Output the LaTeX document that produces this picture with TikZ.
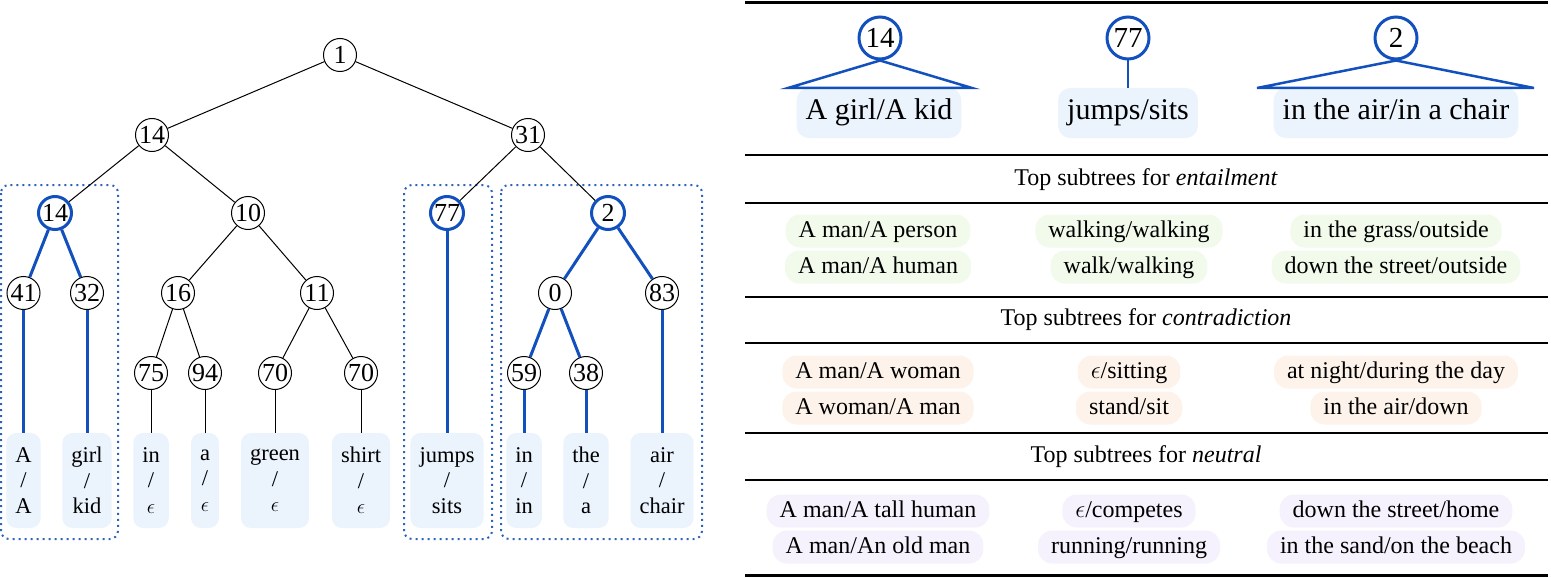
\documentclass[tikz,border=0pt]{standalone}
\usepackage{fontspec}
\setmainfont{Liberation Serif}
\definecolor{mblue}{RGB}{18,80,190}
\definecolor{dblue}{RGB}{45,100,185}
\definecolor{leafbg}{RGB}{235,243,253}
\definecolor{entbg}{RGB}{241,250,235}
\definecolor{conbg}{RGB}{253,243,234}
\definecolor{neubg}{RGB}{246,242,253}
\tikzset{
  tn/.style={circle, draw=black, line width=1pt, minimum size=33pt, inner sep=0pt, fill=white, font=\fontsize{26}{26}\selectfont},
  bn/.style={tn, draw=mblue, line width=3pt},
  te/.style={draw=black, line width=1pt},
  be/.style={draw=mblue, line width=3pt},
  leaf/.style={rounded corners=10pt, fill=leafbg, align=center, inner xsep=9pt, inner ysep=0pt, minimum height=95pt, font=\fontsize{22.5}{25.5}\selectfont},
  dotbox/.style={draw=dblue, line width=2pt, dash pattern=on 2pt off 4pt, rounded corners=8pt},
  bigc/.style={circle, draw=mblue, line width=3pt, minimum size=42pt, inner sep=0pt, fill=white, font=\fontsize{29}{29}\selectfont},
  toppill/.style={rounded corners=12pt, fill=leafbg, minimum height=50pt, inner xsep=9pt, inner ysep=0pt, text height=21pt, text depth=7pt, font=\fontsize{30}{36}\selectfont},
  tri/.style={draw=mblue, line width=2.5pt},
  pill/.style={rounded corners=14pt, minimum height=33pt, inner xsep=13pt, inner ysep=0pt, text height=17pt, text depth=5pt, font=\fontsize{24}{28}\selectfont},
  entp/.style={pill, fill=entbg},
  conp/.style={pill, fill=conbg},
  neup/.style={pill, fill=neubg},
  rowhead/.style={font=\fontsize{24}{28}\selectfont, inner sep=0pt},
  thickrule/.style={draw=black, line width=3pt},
  thinrule/.style={draw=black, line width=1.6pt}
}
\begin{document}
\begin{tikzpicture}[x=1pt,y=-1pt]
\useasboundingbox (0,0) rectangle (1551,578);
% ---------- tree ----------
\draw[dotbox] (1,185) rectangle (118,539);
\draw[dotbox] (404,185) rectangle (492,539);
\draw[dotbox] (501,185) rectangle (702,539);

\node[leaf] (lA) at (23.5,480.5) {A\\/\\A};
\node[leaf] (lgirl) at (87,480.5) {girl\\/\\kid};
\node[leaf] (lin) at (151,480.5) {in\\/\\$\epsilon$};
\node[leaf] (la) at (205,480.5) {a\\/\\$\epsilon$};
\node[leaf] (lgreen) at (275,480.5) {green\\/\\$\epsilon$};
\node[leaf] (lshirt) at (361,480.5) {shirt\\/\\$\epsilon$};
\node[leaf] (ljumps) at (447,480.5) {jumps\\/\\sits};
\node[leaf] (lin2) at (524,480.5) {in\\/\\in};
\node[leaf] (lthe) at (586,480.5) {the\\/\\a};
\node[leaf] (lair) at (662,480.5) {air\\/\\chair};

\node[tn] (n1) at (340,55) {1};
\node[tn] (n14) at (152,135) {14};
\node[tn] (n31) at (528,135) {31};
\node[bn] (b14) at (55,213) {14};
\node[tn] (n10) at (248,213) {10};
\node[bn] (b77) at (447,213) {77};
\node[bn] (b2) at (608,213) {2};
\node[tn] (n41) at (23.5,293) {41};
\node[tn] (n32) at (87,293) {32};
\node[tn] (n16) at (178,293) {16};
\node[tn] (n11) at (317,293) {11};
\node[tn] (n0) at (555,293) {0};
\node[tn] (n83) at (662,293) {83};
\node[tn] (n75) at (151,373) {75};
\node[tn] (n94) at (205,373) {94};
\node[tn] (n70a) at (275,373) {70};
\node[tn] (n70b) at (361,373) {70};
\node[tn] (n59) at (524,373) {59};
\node[tn] (n38) at (586,373) {38};

\draw[te] (n1) -- (n14);
\draw[te] (n1) -- (n31);
\draw[te] (n14) -- (b14);
\draw[te] (n14) -- (n10);
\draw[te] (n31) -- (b77);
\draw[te] (n31) -- (b2);
\draw[te] (n10) -- (n16);
\draw[te] (n10) -- (n11);
\draw[te] (n16) -- (n75);
\draw[te] (n16) -- (n94);
\draw[te] (n11) -- (n70a);
\draw[te] (n11) -- (n70b);
\draw[te] (n75) -- (lin);
\draw[te] (n94) -- (la);
\draw[te] (n70a) -- (lgreen);
\draw[te] (n70b) -- (lshirt);

\draw[be] (b14) -- (n41);
\draw[be] (b14) -- (n32);
\draw[be] (n41) -- (lA);
\draw[be] (n32) -- (lgirl);
\draw[be] (b77) -- (ljumps);
\draw[be] (b2) -- (n0);
\draw[be] (b2) -- (n83);
\draw[be] (n0) -- (n59);
\draw[be] (n0) -- (n38);
\draw[be] (n59) -- (lin2);
\draw[be] (n38) -- (lthe);
\draw[be] (n83) -- (lair);

% ---------- table ----------
\draw[thickrule] (745,3) -- (1548,3);
\draw[thinrule] (745,155) -- (1548,155);
\draw[thinrule] (745,203) -- (1548,203);
\draw[thinrule] (745,297) -- (1548,297);
\draw[thinrule] (745,343) -- (1548,343);
\draw[thinrule] (745,433) -- (1548,433);
\draw[thinrule] (745,480) -- (1548,480);
\draw[thickrule] (745,575) -- (1548,575);

\node[toppill] (p14) at (879,113) {A girl/A kid};
\node[toppill] (p77) at (1128,113) {jumps/sits};
\node[toppill] (p2) at (1396,113) {in the air/in a chair};
\node[bigc] (t14) at (880,38) {14};
\node[bigc] (t77) at (1128,38) {77};
\node[bigc] (t2) at (1396,38) {2};
\coordinate (t14l) at (788,88);
\coordinate (t14r) at (972,88);
\coordinate (t2l) at (1257,88);
\coordinate (t2r) at (1534,88);
\draw[tri] (t14.south) -- (t14l) -- (t14r) -- cycle;
\draw[tri] (t2.south) -- (t2l) -- (t2r) -- cycle;
\draw[tri] (t77.south) -- (p77.north);

\node[rowhead] (h1) at (1146,180) {Top subtrees for \textit{entailment}};
\node[rowhead] (h2) at (1146,320) {Top subtrees for \textit{contradiction}};
\node[rowhead] (h3) at (1146,457) {Top subtrees for \textit{neutral}};

\node[entp] (e11) at (878,231) {A man/A person};
\node[entp] (e12) at (1129,231) {walking/walking};
\node[entp] (e13) at (1396,231) {in the grass/outside};
\node[entp] (e21) at (878,267) {A man/A human};
\node[entp] (e22) at (1129,267) {walk/walking};
\node[entp] (e23) at (1396,267) {down the street/outside};

\node[conp] (c11) at (878,372) {A man/A woman};
\node[conp] (c12) at (1129,372) {$\epsilon$/sitting};
\node[conp] (c13) at (1396,372) {at night/during the day};
\node[conp] (c21) at (878,408) {A woman/A man};
\node[conp] (c22) at (1129,408) {stand/sit};
\node[conp] (c23) at (1396,408) {in the air/down};

\node[neup] (u11) at (878,511) {A man/A tall human};
\node[neup] (u12) at (1129,511) {$\epsilon$/competes};
\node[neup] (u13) at (1396,511) {down the street/home};
\node[neup] (u21) at (878,547) {A man/An old man};
\node[neup] (u22) at (1129,547) {running/running};
\node[neup] (u23) at (1396,547) {in the sand/on the beach};
\end{tikzpicture}
\end{document}
